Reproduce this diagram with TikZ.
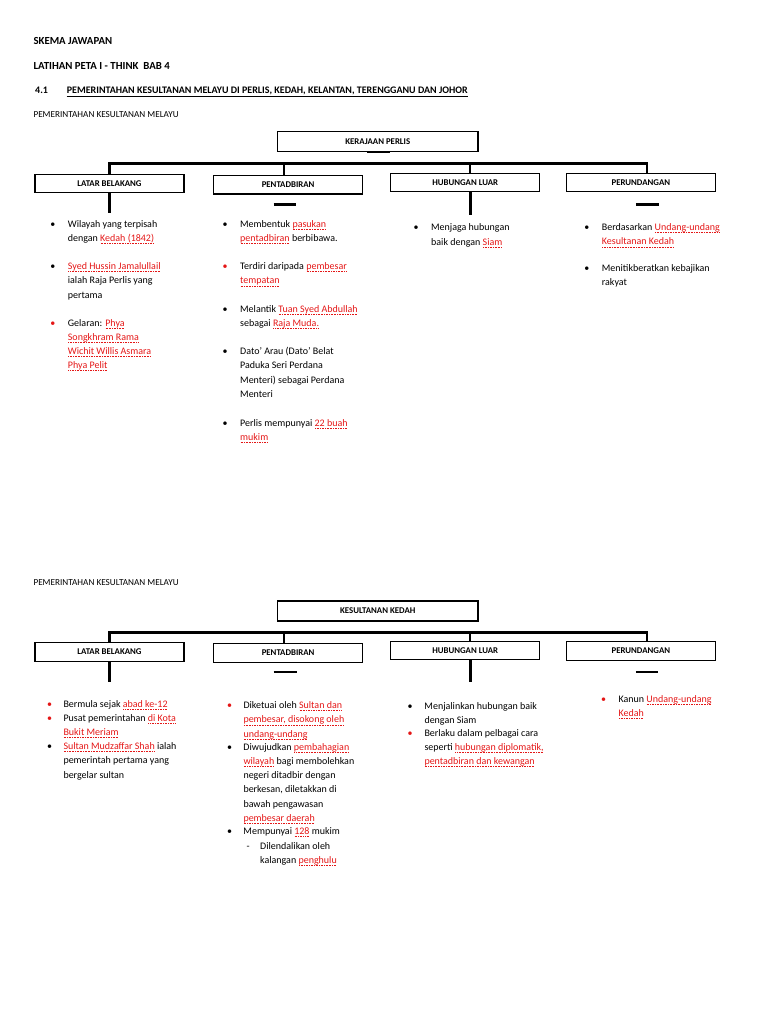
\documentclass[tikz,border=0pt]{standalone}
\usepackage{fontspec}
\setmainfont{Carlito}
\usepackage{xcolor}
\definecolor{redtext}{RGB}{228,22,22}
% red text with a dotted underline
\newcommand{\rd}[1]{\textcolor{redtext}{\setbox0\hbox{#1}\rlap{\raisebox{-2.4pt}[0pt][0pt]{\hbox to \wd0{\xleaders\hbox to 1.6pt{\hss\rule{0.9pt}{0.7pt}\hss}\hfil}}}\box0}}
% marker, hanging indent, lines
\newcommand{\itm}[3]{\makebox[#2][l]{#1}\begin{tabular}[t]{@{}l@{}}#3\end{tabular}}
\newcommand{\bk}{\textbullet}
\newcommand{\br}{\textcolor{redtext}{\textbullet}}
\tikzset{
  hbox/.style={draw, line width=1.3pt, minimum width=149pt, minimum height=18.4pt, inner sep=0pt, font=\fontsize{8.8}{10}\selectfont\bfseries},
  rootbox/.style={hbox, minimum width=200.5pt, minimum height=20pt},
  lst/.style={anchor=base west, inner sep=0pt, font=\fontsize{10}{14.2}\selectfont},
  head/.style={anchor=base west, inner sep=0pt, font=\fontsize{10.8}{12}\selectfont\bfseries},
  subhead/.style={anchor=base west, inner sep=0pt, font=\fontsize{9.2}{11}\selectfont},
  bar/.style={line width=2.7pt},
  tick/.style={line width=2.2pt},
  drop/.style={line width=3pt},
  stub/.style={line width=2.7pt},
}

\begin{document}
\begin{tikzpicture}[x=1pt, y=-1pt]
    \useasboundingbox (0,0) rectangle (768,1024);

    % Header text
    \node[head] (skema) at (33.3,44.5) {SKEMA JAWAPAN};
    \node[head] (latihan) at (33.3,69.5) {LATIHAN PETA I - THINK\ \ BAB 4};
    \node[head, font=\fontsize{10}{12}\selectfont\bfseries] (sec) at (35,94) {4.1};
    \node[head, font=\fontsize{10}{12}\selectfont\bfseries] (sectitle) at (66.7,94) {PEMERINTAHAN KESULTANAN MELAYU DI PERLIS, KEDAH, KELANTAN, TERENGGANU DAN JOHOR};
    \draw[line width=0.9pt] ([yshift=-2pt]sectitle.base west) -- ([yshift=-2pt]sectitle.base east);
    \node[subhead] (sub1) at (33.3,117.5) {PEMERINTAHAN KESULTANAN MELAYU};

    % Perlis boxes
    \node[rootbox] (perlis) at (377.8,141.7) {KERAJAAN PERLIS};
    \node[hbox] (lb1) at (109.5,183.5) {LATAR BELAKANG};
    \node[hbox] (pt1) at (288.1,184.9) {PENTADBIRAN};
    \node[hbox] (hl1) at (465.2,182.5) {HUBUNGAN LUAR};
    \node[hbox] (pr1) at (640.9,182.5) {PERUNDANGAN};

    % Perlis bar
    \coordinate (bar1l) at (109.7,163.3);
    \coordinate (bar1r) at (647,163.3);
    \coordinate (tk1b) at (283.6,163.3);
    \coordinate (tk1c) at (470.2,163.3);
    \draw[stub, line width=2pt] ([xshift=-11pt]perlis.south) -- ([xshift=12pt]perlis.south);
    \draw[bar] (lb1.north -| bar1l) -- (bar1l) -- (bar1r) -- (bar1r |- pr1.north);
    \draw[tick] (tk1b) -- (tk1b |- pt1.north);
    \draw[tick] (tk1c) -- (tk1c |- hl1.north);

    % Perlis drops
    \coordinate (lb1d) at (109.5,213);
    \coordinate (hl1d) at (470.2,215);
    \draw[drop] (lb1.south) -- (lb1d);
    \draw[drop] (hl1.south -| hl1d) -- (hl1d);
    \draw[stub] (pt1.south) ++(-14.5,10) -- ++(22,0);
    \draw[stub] (pr1.south) ++(-5,12) -- ++(23,0);

    % Perlis items
    \node[lst] (lb1a) at (50.2,227) {\itm{\bk}{17.5pt}{Wilayah yang terpisah\\dengan \rd{Kedah (1842)}}};
    \node[lst] (lb1b) at (50.2,269.7) {\itm{\bk}{17.5pt}{\rd{Syed Hussin Jamalullail}\\ialah Raja Perlis yang\\pertama}};
    \node[lst] (lb1c) at (50.2,326) {\itm{\br}{17.5pt}{Gelaran: \rd{Phya}\\\rd{Songkhram Rama}\\\rd{Wichit Willis Asmara}\\\rd{Phya Pelit}}};

    \node[lst] (pt1a) at (222.5,227) {\itm{\bk}{17.5pt}{Membentuk \rd{pasukan}\\\rd{pentadbiran} berbibawa.}};
    \node[lst] (pt1b) at (222.5,269.7) {\itm{\br}{17.5pt}{Terdiri daripada \rd{pembesar}\\\rd{tempatan}}};
    \node[lst] (pt1c) at (222.5,312) {\itm{\bk}{17.5pt}{Melantik \rd{Tuan Syed Abdullah}\\sebagai \rd{Raja Muda.}}};
    \node[lst] (pt1d) at (222.5,354.7) {\itm{\bk}{17.5pt}{Dato’ Arau (Dato’ Belat\\Paduka Seri Perdana\\Menteri) sebagai Perdana\\Menteri}};
    \node[lst] (pt1e) at (222.5,426) {\itm{\bk}{17.5pt}{Perlis mempunyai \rd{22 buah}\\\rd{mukim}}};

    \node[lst] (hl1a) at (413.5,231) {\itm{\bk}{17.5pt}{Menjaga hubungan\\baik dengan \rd{Siam}}};

    \node[lst] (pr1a) at (584.2,230.7) {\itm{\bk}{17.5pt}{Berdasarkan \rd{Undang-undang}\\\rd{Kesultanan Kedah}}};
    \node[lst] (pr1b) at (584.2,271) {\itm{\bk}{17.5pt}{Menitikberatkan kebajikan\\rakyat}};

    % Kedah header
    \node[subhead] (sub2) at (33.3,585.5) {PEMERINTAHAN KESULTANAN MELAYU};

    % Kedah boxes
    \node[rootbox] (kedah) at (377.8,611) {KESULTANAN KEDAH};
    \node[hbox] (lb2) at (109.5,652) {LATAR BELAKANG};
    \node[hbox] (pt2) at (288.1,653) {PENTADBIRAN};
    \node[hbox] (hl2) at (465.2,650.5) {HUBUNGAN LUAR};
    \node[hbox] (pr2) at (640.9,651) {PERUNDANGAN};

    % Kedah bar
    \coordinate (bar2l) at (109.7,632.3);
    \coordinate (bar2r) at (647,632.3);
    \coordinate (tk2b) at (283.6,632.3);
    \coordinate (tk2c) at (470.2,632.3);
    \draw[bar] (lb2.north -| bar2l) -- (bar2l) -- (bar2r) -- (bar2r |- pr2.north);
    \draw[tick] (tk2b) -- (tk2b |- pt2.north);
    \draw[tick] (tk2c) -- (tk2c |- hl2.north);

    % Kedah drops
    \coordinate (lb2d) at (109.5,682);
    \coordinate (hl2d) at (470.8,682);
    \draw[drop] (lb2.south) -- (lb2d);
    \draw[drop] (hl2.south -| hl2d) -- (hl2d);
    \draw[stub] (pt2.south) ++(-14.5,9) -- ++(23,0);
    \draw[stub] (pr2.south) ++(-5,11) -- ++(22,0);

    % Kedah items
    \node[lst] (lb2a) at (46.8,707.3) {\itm{\br}{16.5pt}{Bermula sejak \rd{abad ke-12}}};
    \node[lst] (lb2b) at (46.8,721.3) {\itm{\br}{16.5pt}{Pusat pemerintahan \rd{di Kota}\\\rd{Bukit Meriam}}};
    \node[lst] (lb2c) at (46.8,749.7) {\itm{\bk}{16.5pt}{\rd{Sultan Mudzaffar Shah} ialah\\pemerintah pertama yang\\bergelar sultan}};

    \node[lst] (pt2a) at (226.8,708.7) {\itm{\br}{16.5pt}{Diketuai oleh \rd{Sultan dan}\\\rd{pembesar, disokong oleh}\\\rd{undang-undang}}};
    \node[lst] (pt2b) at (226.8,750.3) {\itm{\bk}{16.5pt}{Diwujudkan \rd{pembahagian}\\\rd{wilayah} bagi membolehkan\\negeri ditadbir dengan\\berkesan, diletakkan di\\bawah pengawasan\\\rd{pembesar daerah}}};
    \node[lst] (pt2c) at (226.8,834.7) {\itm{\bk}{16.5pt}{Mempunyai \rd{128} mukim}};
    \node[lst] (pt2d) at (246.5,849) {\itm{-}{13.5pt}{Dilendalikan oleh\\kalangan \rd{penghulu}}};

    \node[lst] (hl2a) at (407.5,709.7) {\itm{\bk}{16.8pt}{Menjalinkan hubungan baik\\dengan Siam}};
    \node[lst] (hl2b) at (407.5,736.3) {\itm{\br}{16.8pt}{Berlaku dalam pelbagai cara\\seperti \rd{hubungan diplomatik,}\\\rd{pentadbiran dan kewangan}}};

    \node[lst] (pr2a) at (600.8,702) {\itm{\br}{17.5pt}{Kanun \rd{Undang-undang}\\\rd{Kedah}}};
\end{tikzpicture}
\end{document}
